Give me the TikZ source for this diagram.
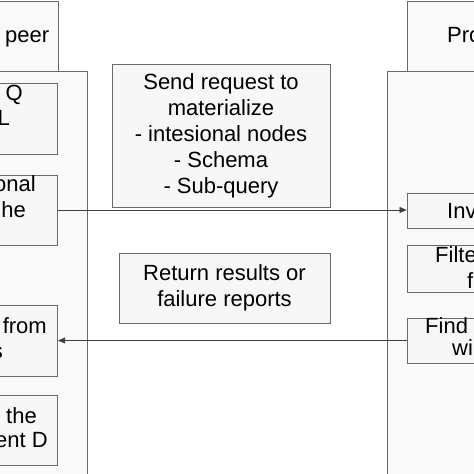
\documentclass[tikz,border=0pt]{standalone}
\usepackage{fontspec}
\setmainfont{Liberation Sans}
\usetikzlibrary{arrows.meta,positioning}
\definecolor{edgegray}{HTML}{6A6A6A}
\definecolor{lanefill}{HTML}{F9F9F9}
\definecolor{boxfill}{HTML}{F7F7F7}
\definecolor{linegray}{HTML}{404040}

\begin{document}
\begin{tikzpicture}[x=1pt,y=-1pt,
    font=\fontsize{22}{26}\selectfont,
    lane/.style={draw=edgegray,fill=lanefill,line width=0.8pt},
    taskbox/.style={draw=edgegray,fill=boxfill,line width=0.8pt,inner sep=0pt},
    frag/.style={inner sep=0pt},
    msg/.style={-{Triangle[length=7pt,width=6pt]},draw=linegray,line width=0.6pt}]
    \useasboundingbox (0,0) rectangle (474,474);
    \clip (0,0) rectangle (474,474);
    % lanes and headers
    \draw[lane] (-12,71) rectangle (87.7,490);
    \draw[lane] (387,71) rectangle (500,490);
    \draw[lane] (-12,1) rectangle (58,71);
    \draw[lane] (407,1) rectangle (500,71);
    \node[frag,anchor=base west] (peer) at (5,42) {peer};
    \node[frag,anchor=base west] (prov) at (447,42) {Pro};
    % left peer
    \node[taskbox,minimum width=70pt,minimum height=71pt] (ask1) at (22.7,118.5) {};
    \node[taskbox,minimum width=70pt,minimum height=70pt] (ask2) at (22.7,210) {};
    \node[taskbox,minimum width=70pt,minimum height=71pt] (ask3) at (22.7,340.5) {};
    \node[taskbox,minimum width=70pt,minimum height=70pt] (ask4) at (22.7,430) {};
    \node[frag,anchor=base east] (ask1a) at (23,100) {Q};
    \node[frag,anchor=base east] (ask1b) at (10,125) {L};
    \node[frag,anchor=base east] (ask2a) at (36,191) {onal};
    \node[frag,anchor=base east] (ask2b) at (26,217) {he};
    \node[frag,anchor=base east] (ask3a) at (47,333) {from};
    \node[frag,anchor=base east] (ask3b) at (3,358) {s};
    \node[frag,anchor=base east] (ask4a) at (37,423) {the};
    \node[frag,anchor=base east] (ask4b) at (48,447) {ent D};
    % provider peer
    \node[taskbox,minimum width=93pt,minimum height=35pt] (ans1) at (453.5,210.5) {};
    \node[taskbox,minimum width=93pt,minimum height=47pt] (ans2) at (453.5,268.5) {};
    \node[taskbox,minimum width=93pt,minimum height=45pt] (ans3) at (453.5,340.5) {};
    \node[frag,anchor=base west] (ans1a) at (447,218) {Inv};
    \node[frag,anchor=base west] (ans2a) at (435,262) {Filte};
    \node[frag,anchor=base west] (ans2b) at (467,288) {f};
    \node[frag,anchor=base west] (ans3a) at (425,333) {Find};
    \node[frag,anchor=base west] (ans3b) at (452,355) {wi};
    % messages
    \node[taskbox,align=center,minimum width=218pt,minimum height=143pt] (req) at (221,135.5)
        {Send request to\\materialize\\- intesional nodes\\- Schema\\- Sub-query};
    \node[taskbox,align=center,minimum width=211pt,minimum height=70pt] (ret) at (224.5,288)
        {Return results or\\failure reports};
    \draw[msg] (ask2.east) -- (ask2.east -| ans1.west);
    \draw[msg] (ans3.west) -- (ans3.west -| ask3.east);
\end{tikzpicture}
\end{document}
